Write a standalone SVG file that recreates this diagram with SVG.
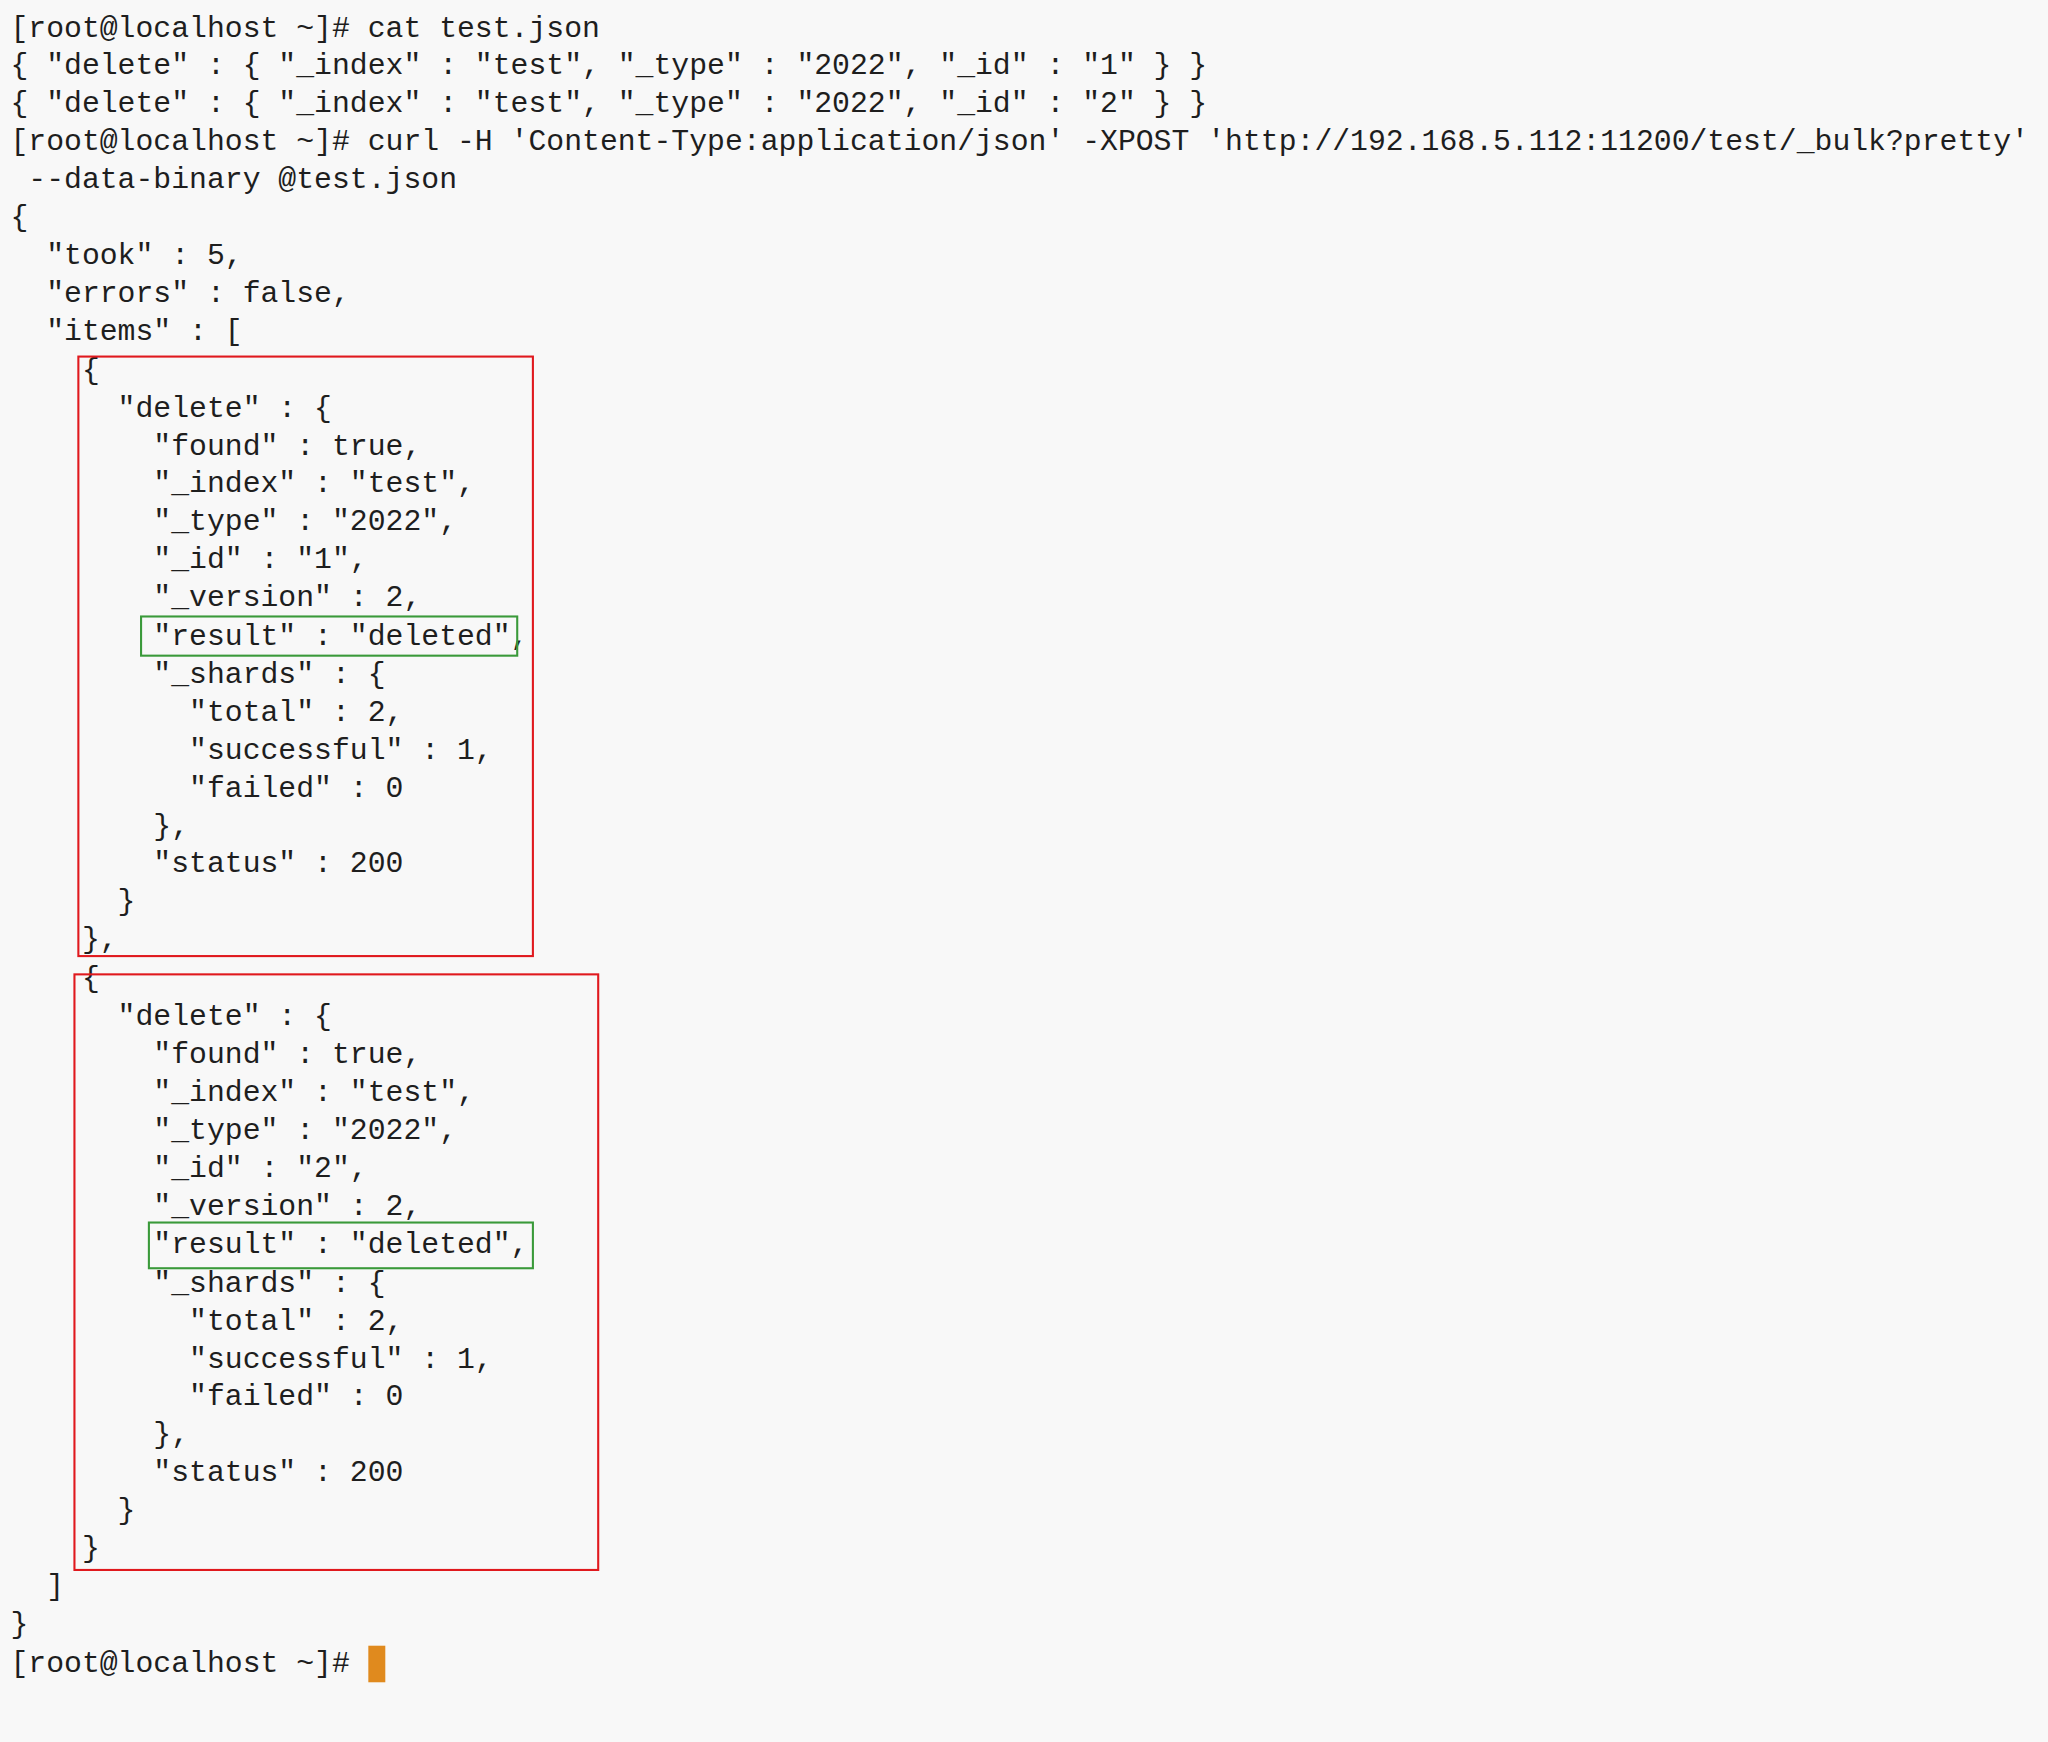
<svg xmlns="http://www.w3.org/2000/svg" width="2048" height="1742" viewBox="0 0 2048 1742">
<style>
text{font-family:"Liberation Mono","DejaVu Sans Mono",monospace;font-size:22.8px;fill:#1e1e1e;white-space:pre}
.r{fill:none;stroke:#e0191e;stroke-width:1.6}
.g{fill:none;stroke:#3a9a3a;stroke-width:1.6}
</style>
<rect width="2048" height="1742" fill="#f8f8f8"/>
<g transform="scale(1.30612)">
<g id="terminal" xml:space="preserve">
<text x="8" y="28">[root@localhost ~]# cat test.json</text>
<text x="8" y="57">{ "delete" : { "_index" : "test", "_type" : "2022", "_id" : "1" } }</text>
<text x="8" y="86">{ "delete" : { "_index" : "test", "_type" : "2022", "_id" : "2" } }</text>
<text x="8" y="115">[root@localhost ~]# curl -H 'Content-Type:application/json' -XPOST 'http://192.168.5.112:11200/test/_bulk?pretty'</text>
<text x="8" y="144"> --data-binary @test.json</text>
<text x="8" y="173">{</text>
<text x="8" y="202">  "took" : 5,</text>
<text x="8" y="231">  "errors" : false,</text>
<text x="8" y="260">  "items" : [</text>
<text x="8" y="290">    {</text>
<text x="8" y="319">      "delete" : {</text>
<text x="8" y="348">        "found" : true,</text>
<text x="8" y="377">        "_index" : "test",</text>
<text x="8" y="406">        "_type" : "2022",</text>
<text x="8" y="435">        "_id" : "1",</text>
<text x="8" y="464">        "_version" : 2,</text>
<text x="8" y="494">        "result" : "deleted",</text>
<text x="8" y="523">        "_shards" : {</text>
<text x="8" y="552">          "total" : 2,</text>
<text x="8" y="581">          "successful" : 1,</text>
<text x="8" y="610">          "failed" : 0</text>
<text x="8" y="639">        },</text>
<text x="8" y="668">        "status" : 200</text>
<text x="8" y="697">      }</text>
<text x="8" y="726">    },</text>
<text x="8" y="756">    {</text>
<text x="8" y="785">      "delete" : {</text>
<text x="8" y="814">        "found" : true,</text>
<text x="8" y="843">        "_index" : "test",</text>
<text x="8" y="872">        "_type" : "2022",</text>
<text x="8" y="901">        "_id" : "2",</text>
<text x="8" y="930">        "_version" : 2,</text>
<text x="8" y="959">        "result" : "deleted",</text>
<text x="8" y="989">        "_shards" : {</text>
<text x="8" y="1018">          "total" : 2,</text>
<text x="8" y="1047">          "successful" : 1,</text>
<text x="8" y="1076">          "failed" : 0</text>
<text x="8" y="1105">        },</text>
<text x="8" y="1134">        "status" : 200</text>
<text x="8" y="1163">      }</text>
<text x="8" y="1192">    }</text>
<text x="8" y="1221">  ]</text>
<text x="8" y="1250">}</text>
<text x="8" y="1280">[root@localhost ~]# </text>
<rect x="282" y="1260" width="13" height="28" fill="#e08a1e"/>
</g>
<g id="boxes">
<rect class="r" x="60" y="273" width="348" height="459"/>
<rect class="r" x="57" y="746" width="401" height="456"/>
<rect class="g" x="108" y="472" width="288" height="30"/>
<rect class="g" x="114" y="936" width="294" height="35"/>
</g>
</g>
</svg>
